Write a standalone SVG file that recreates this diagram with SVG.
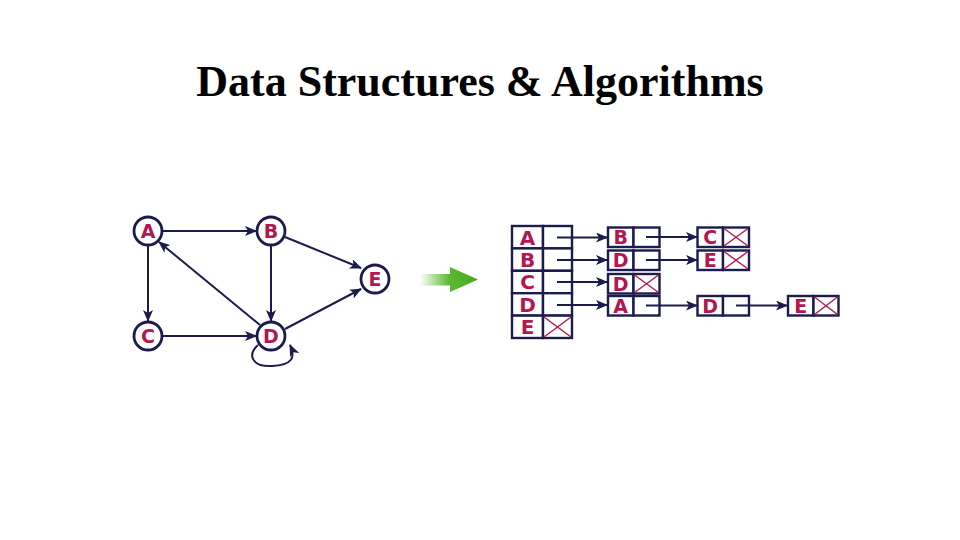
<svg xmlns="http://www.w3.org/2000/svg" width="960" height="540" viewBox="0 0 960 540">
<defs>
<style>
.title{font-family:"Liberation Serif","Times New Roman",serif;font-weight:bold;font-size:44px;fill:#000}
.node circle{fill:#fff;stroke:#1b1b4d;stroke-width:2.8}
.lbl{font-family:"DejaVu Sans",Verdana,sans-serif;font-weight:bold;font-size:19px;fill:#b3174f;text-anchor:middle;dominant-baseline:central}
.cl{font-size:20px}
.edge{stroke:#1b1b4d;stroke-width:2;fill:none}
.box{fill:#fff;stroke:#1b1b4d;stroke-width:2.4}
.x{stroke:#b3174f;stroke-width:1.4}
</style>
<marker id="ah" viewBox="0 0 12 10" refX="11" refY="5" markerWidth="12" markerHeight="10" markerUnits="userSpaceOnUse" orient="auto">
<path d="M0,0 L12,5 L0,10 L3,5 z" fill="#1b1b4d"/>
</marker>
<linearGradient id="g" x1="0" y1="0" x2="1" y2="0">
<stop offset="0" stop-color="#4caf1c" stop-opacity="0"/>
<stop offset="0.5" stop-color="#4caf1c" stop-opacity="0.9"/>
<stop offset="1" stop-color="#46ab17"/>
</linearGradient>
</defs>
<rect width="960" height="540" fill="#fff"/>
<text class="title" x="480" y="96" text-anchor="middle">Data Structures &amp; Algorithms</text>

<g id="connectors">
<line class="edge" x1="163" y1="231" x2="256" y2="231" marker-end="url(#ah)"/>
<line class="edge" x1="148" y1="246" x2="148" y2="321" marker-end="url(#ah)"/>
<line class="edge" x1="271" y1="246" x2="271" y2="321" marker-end="url(#ah)"/>
<line class="edge" x1="163" y1="336" x2="256" y2="336" marker-end="url(#ah)"/>
<line class="edge" x1="260" y1="325" x2="159" y2="242" marker-end="url(#ah)"/>
<line class="edge" x1="285" y1="237" x2="361" y2="268" marker-end="url(#ah)"/>
<line class="edge" x1="285" y1="329" x2="361" y2="289" marker-end="url(#ah)"/>
<path class="edge" d="M258,345 C247,355 252,367 272,366 C292,365 296,358 290,345" marker-end="url(#ah)"/>
</g>

<g id="node-A" class="node"><circle cx="148" cy="231" r="14"/><text class="lbl" x="148" y="231">A</text></g>
<g id="node-B" class="node"><circle cx="271" cy="231" r="14"/><text class="lbl" x="271" y="231">B</text></g>
<g id="node-C" class="node"><circle cx="148" cy="336" r="14"/><text class="lbl" x="148" y="336">C</text></g>
<g id="node-D" class="node"><circle cx="271" cy="336" r="14"/><text class="lbl" x="271" y="336">D</text></g>
<g id="node-E" class="node"><circle cx="375" cy="279" r="14"/><text class="lbl" x="375" y="279">E</text></g>

<g id="green-arrow">
<polygon points="420,274 450,274 450,267 478,279.5 450,292 450,285.5 420,285.5" fill="url(#g)"/>
</g>

<g id="head-table">
<rect class="box" x="512" y="226" width="31" height="22.4"/><rect class="box" x="543" y="226" width="29" height="22.4"/>
<rect class="box" x="512" y="248.4" width="31" height="22.4"/><rect class="box" x="543" y="248.4" width="29" height="22.4"/>
<rect class="box" x="512" y="270.8" width="31" height="22.4"/><rect class="box" x="543" y="270.8" width="29" height="22.4"/>
<rect class="box" x="512" y="293.2" width="31" height="22.4"/><rect class="box" x="543" y="293.2" width="29" height="22.4"/>
<rect class="box" x="512" y="315.6" width="31" height="22.4"/><rect class="box" x="543" y="315.6" width="29" height="22.4"/>
<line class="x" x1="544" y1="317" x2="571" y2="337"/><line class="x" x1="571" y1="317" x2="544" y2="337"/>
<text class="lbl cl" x="527.5" y="237.5">A</text>
<text class="lbl cl" x="527.5" y="259.8">B</text>
<text class="lbl cl" x="527.5" y="282.2">C</text>
<text class="lbl cl" x="527.5" y="304.6">D</text>
<text class="lbl cl" x="527.5" y="327">E</text>
</g>

<g id="list-A-1"><rect class="box" x="608" y="227.5" width="25.5" height="19.5"/><rect class="box" x="633.5" y="227.5" width="26" height="19.5"/><text class="lbl" x="620.7" y="237.3">B</text></g>
<g id="list-B-1"><rect class="box" x="608" y="250.5" width="25.5" height="19.5"/><rect class="box" x="633.5" y="250.5" width="26" height="19.5"/><text class="lbl" x="620.7" y="260.3">D</text></g>
<g id="list-C-1"><rect class="box" x="608" y="274" width="25.5" height="19.5"/><rect class="box" x="633.5" y="274" width="26" height="19.5"/><line class="x" x1="634.5" y1="275" x2="658.5" y2="292.5"/><line class="x" x1="658.5" y1="275" x2="634.5" y2="292.5"/><text class="lbl" x="620.7" y="283.8">D</text></g>
<g id="list-D-1"><rect class="box" x="608" y="296" width="25.5" height="19.5"/><rect class="box" x="633.5" y="296" width="26" height="19.5"/><text class="lbl" x="620.7" y="305.8">A</text></g>

<g id="list-A-2"><rect class="box" x="697.5" y="227.5" width="25.5" height="19.5"/><rect class="box" x="723" y="227.5" width="26" height="19.5"/><line class="x" x1="724" y1="228.5" x2="748" y2="246"/><line class="x" x1="748" y1="228.5" x2="724" y2="246"/><text class="lbl" x="710.2" y="237.3">C</text></g>
<g id="list-B-2"><rect class="box" x="697.5" y="250.5" width="25.5" height="19.5"/><rect class="box" x="723" y="250.5" width="26" height="19.5"/><line class="x" x1="724" y1="251.5" x2="748" y2="269"/><line class="x" x1="748" y1="251.5" x2="724" y2="269"/><text class="lbl" x="710.2" y="260.3">E</text></g>
<g id="list-D-2"><rect class="box" x="697.5" y="296" width="25.5" height="19.5"/><rect class="box" x="723" y="296" width="26" height="19.5"/><text class="lbl" x="710.2" y="305.8">D</text></g>
<g id="list-D-3"><rect class="box" x="788" y="296" width="25.5" height="19.5"/><rect class="box" x="813.5" y="296" width="25" height="19.5"/><line class="x" x1="814.5" y1="297" x2="837.5" y2="314.5"/><line class="x" x1="837.5" y1="297" x2="814.5" y2="314.5"/><text class="lbl" x="800.7" y="305.8">E</text></g>

<g id="list-connectors">
<line class="edge" x1="557" y1="237.5" x2="607" y2="237.5" marker-end="url(#ah)"/>
<line class="edge" x1="557" y1="260" x2="607" y2="260" marker-end="url(#ah)"/>
<line class="edge" x1="557" y1="282" x2="607" y2="282" marker-end="url(#ah)"/>
<line class="edge" x1="557" y1="305" x2="607" y2="305" marker-end="url(#ah)"/>
<line class="edge" x1="646" y1="237" x2="697" y2="237" marker-end="url(#ah)"/>
<line class="edge" x1="646" y1="260" x2="697" y2="260" marker-end="url(#ah)"/>
<line class="edge" x1="646" y1="305.5" x2="697" y2="305.5" marker-end="url(#ah)"/>
<line class="edge" x1="736" y1="305.5" x2="787" y2="305.5" marker-end="url(#ah)"/>
</g>
</svg>
